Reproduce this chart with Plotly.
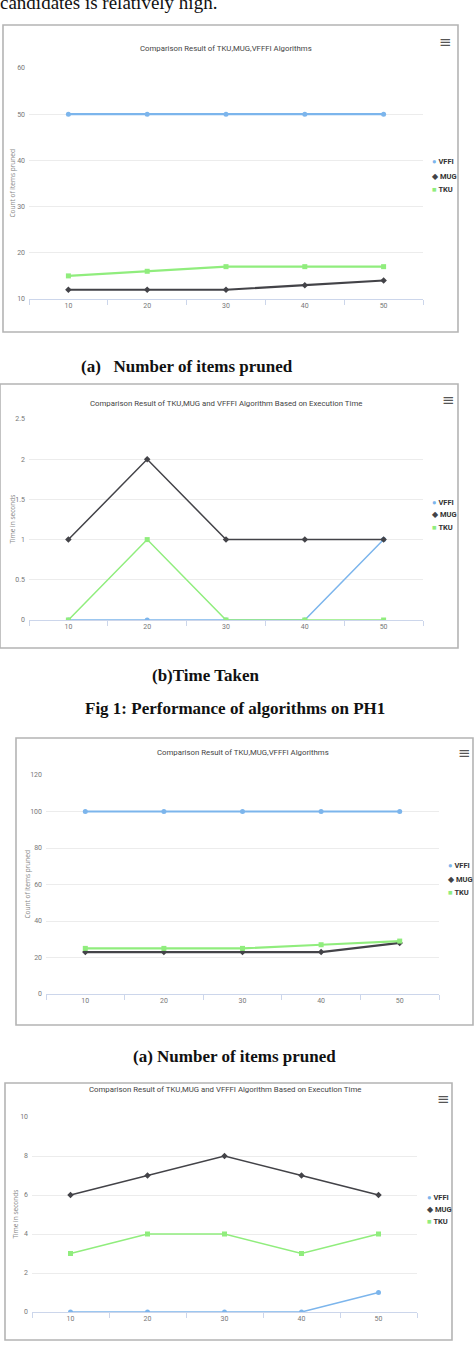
import plotly.graph_objects as go

W, H = 474, 1363

# categories (x axis) and series
x_labels = ["10", "20", "30", "40", "50"]
series_names = ["VFFI", "MUG", "TKU"]
series_colors = ["#7cb5ec", "#434348", "#90ed7d"]
series_symbols = ["circle", "diamond", "square"]
legend_glyphs = ["\u25cf", "\u25c6", "\u25a0"]

# Fig 1 (PH1) - (a) number of items pruned
ph1_items_vffi = [50, 50, 50, 50, 50]
ph1_items_mug = [12, 12, 12, 13, 14]
ph1_items_tku = [15, 16, 17, 17, 17]

# Fig 1 (PH1) - (b) time taken
ph1_time_vffi = [0, 0, 0, 0, 1]
ph1_time_mug = [1, 2, 1, 1, 1]
ph1_time_tku = [0, 1, 0, 0, 0]

# second dataset - (a) number of items pruned
ph2_items_vffi = [100, 100, 100, 100, 100]
ph2_items_mug = [23, 23, 23, 23, 28]
ph2_items_tku = [25, 25, 25, 27, 29]

# second dataset - time taken
ph2_time_vffi = [0, 0, 0, 0, 1]
ph2_time_mug = [6, 7, 8, 7, 6]
ph2_time_tku = [3, 4, 4, 3, 4]

title_items = "Comparison Result of TKU,MUG,VFFFI Algorithms"
title_time = "Comparison Result of TKU,MUG and VFFFI Algorithm Based on Execution Time"

NARROW = "Roboto, Liberation Sans Narrow, sans-serif"
SERIF = "Liberation Serif, Times New Roman, serif"


def px(x):
    return x / W


def py(y):
    return 1 - y / H


# one dict per panel: box, plot area, y range and the texts
panels = [
    dict(series=[ph1_items_vffi, ph1_items_mug, ph1_items_tku], title=title_items,
         ytitle="Count of items pruned", yrange=[10, 60], dtick=10,
         box=(3, 25, 458, 332), plot=(29, 423, 299, 68), title_y=42,
         ytitle_x=12, legend_x=430, legend_y=[161, 176, 190], menu=(445, 42), lw=2.2),
    dict(series=[ph1_time_vffi, ph1_time_mug, ph1_time_tku], title=title_time,
         ytitle="Time in seconds", yrange=[0, 2.5], dtick=0.5,
         box=(0, 384, 458, 648), plot=(29, 423, 620, 419), title_y=397,
         ytitle_x=12, legend_x=430, legend_y=[502, 514, 527], menu=(448, 400), lw=1.5),
    dict(series=[ph2_items_vffi, ph2_items_mug, ph2_items_tku], title=title_items,
         ytitle="Count of items pruned", yrange=[0, 120], dtick=20,
         box=(16, 738, 473, 1025), plot=(46, 439, 994, 775), title_y=752,
         ytitle_x=27, legend_x=446, legend_y=[865, 879, 892], menu=(464, 753), lw=2.2),
    dict(series=[ph2_time_vffi, ph2_time_mug, ph2_time_tku], title=title_time,
         ytitle="Time in seconds", yrange=[0, 10], dtick=2,
         box=(5, 1083, 452, 1340), plot=(32, 417, 1312, 1117), title_y=1096,
         ytitle_x=15, legend_x=425, legend_y=[1197, 1209, 1221], menu=(443, 1099), lw=1.5),
]

fig = go.Figure()
shapes = []
annotations = []
layout_axes = {}

for i, p in enumerate(panels, start=1):
    sfx = "" if i == 1 else str(i)
    x0, x1, yb, yt = p["plot"]

    for name, vals, color, sym in zip(series_names, p["series"], series_colors, series_symbols):
        fig.add_trace(go.Scatter(
            x=x_labels, y=vals, name=name, mode="lines+markers",
            line=dict(color=color, width=p["lw"]),
            marker=dict(symbol=sym, size=5, color=color),
            xaxis="x" + sfx, yaxis="y" + sfx, showlegend=False,
        ))

    layout_axes["xaxis" + sfx] = dict(
        domain=[px(x0), px(x1)], anchor="y" + sfx, type="category",
        range=[-0.5, 4.5], tickson="boundaries", ticks="outside", ticklen=5,
        tickcolor="#ccd6eb", showline=True, linecolor="#ccd6eb", linewidth=1,
        showgrid=False, zeroline=False, fixedrange=True,
        tickfont=dict(family=NARROW, size=7, color="#777"),
    )
    layout_axes["yaxis" + sfx] = dict(
        domain=[py(yb), py(yt)], anchor="x" + sfx, range=p["yrange"], dtick=p["dtick"],
        showgrid=True, gridcolor="#ececec", gridwidth=1, zeroline=False, showline=False,
        ticks="", ticklabelstandoff=3, fixedrange=True,
        tickfont=dict(family=NARROW, size=7, color="#777"),
    )

    bx0, by0, bx1, by1 = p["box"]
    shapes.append(dict(type="rect", xref="paper", yref="paper",
                       x0=px(bx0), x1=px(bx1), y0=py(by1), y1=py(by0),
                       line=dict(color="#b4b4b4", width=1.6), layer="below"))

    annotations.append(dict(text=p["title"], x=px((x0 + x1) / 2), y=py(p["title_y"]),
                            xref="paper", yref="paper", xanchor="center", showarrow=False,
                            font=dict(family=NARROW, size=7.8, color="#444")))
    annotations.append(dict(text=p["ytitle"], x=px(p["ytitle_x"]), y=py((yb + yt) / 2),
                            xref="paper", yref="paper", xanchor="center", yanchor="middle",
                            showarrow=False, textangle=-90,
                            font=dict(family="Open Sans, sans-serif", size=6.5, color="#888")))
    annotations.append(dict(text="\u2261", x=px(p["menu"][0]), y=py(p["menu"][1]),
                            xref="paper", yref="paper", xanchor="center", yanchor="middle",
                            showarrow=False,
                            font=dict(family="DejaVu Sans", size=15, color="#555")))
    for name, color, glyph, ly in zip(series_names, series_colors, legend_glyphs, p["legend_y"]):
        annotations.append(dict(
            text=f'<span style="color:{color}">{glyph}</span> <b>{name}</b>',
            x=px(p["legend_x"]), y=py(ly), xref="paper", yref="paper",
            xanchor="left", yanchor="middle", showarrow=False,
            font=dict(family=NARROW, size=7.5, color="#333")))

# page text around the charts
page_texts = [
    ("candidates is relatively high.", -2, 15, "left", "bottom", False),
    ("(a)\u00a0\u00a0\u00a0Number of items pruned", 187, 366, "center", "middle", True),
    ("(b)Time Taken", 205, 675, "center", "middle", True),
    ("Fig 1: Performance of algorithms on PH1", 235, 708, "center", "middle", True),
    ("(a) Number of items pruned", 234, 1056, "center", "middle", True),
]
for txt, tx, ty, xa, ya, bold in page_texts:
    annotations.append(dict(text=f"<b>{txt}</b>" if bold else txt, x=px(tx), y=py(ty),
                            xref="paper", yref="paper", xanchor=xa, yanchor=ya,
                            showarrow=False,
                            font=dict(family=SERIF, size=17 if bold else 19, color="#111")))

fig.update_layout(
    width=W, height=H,
    margin=dict(l=0, r=0, t=0, b=0, autoexpand=False),
    paper_bgcolor="white", plot_bgcolor="white",
    showlegend=False, shapes=shapes, annotations=annotations,
    **layout_axes,
)

fig.write_html("out.html", config={"displayModeBar": False},
               post_script="document.body.style.margin='0';document.body.style.overflow='hidden';")
